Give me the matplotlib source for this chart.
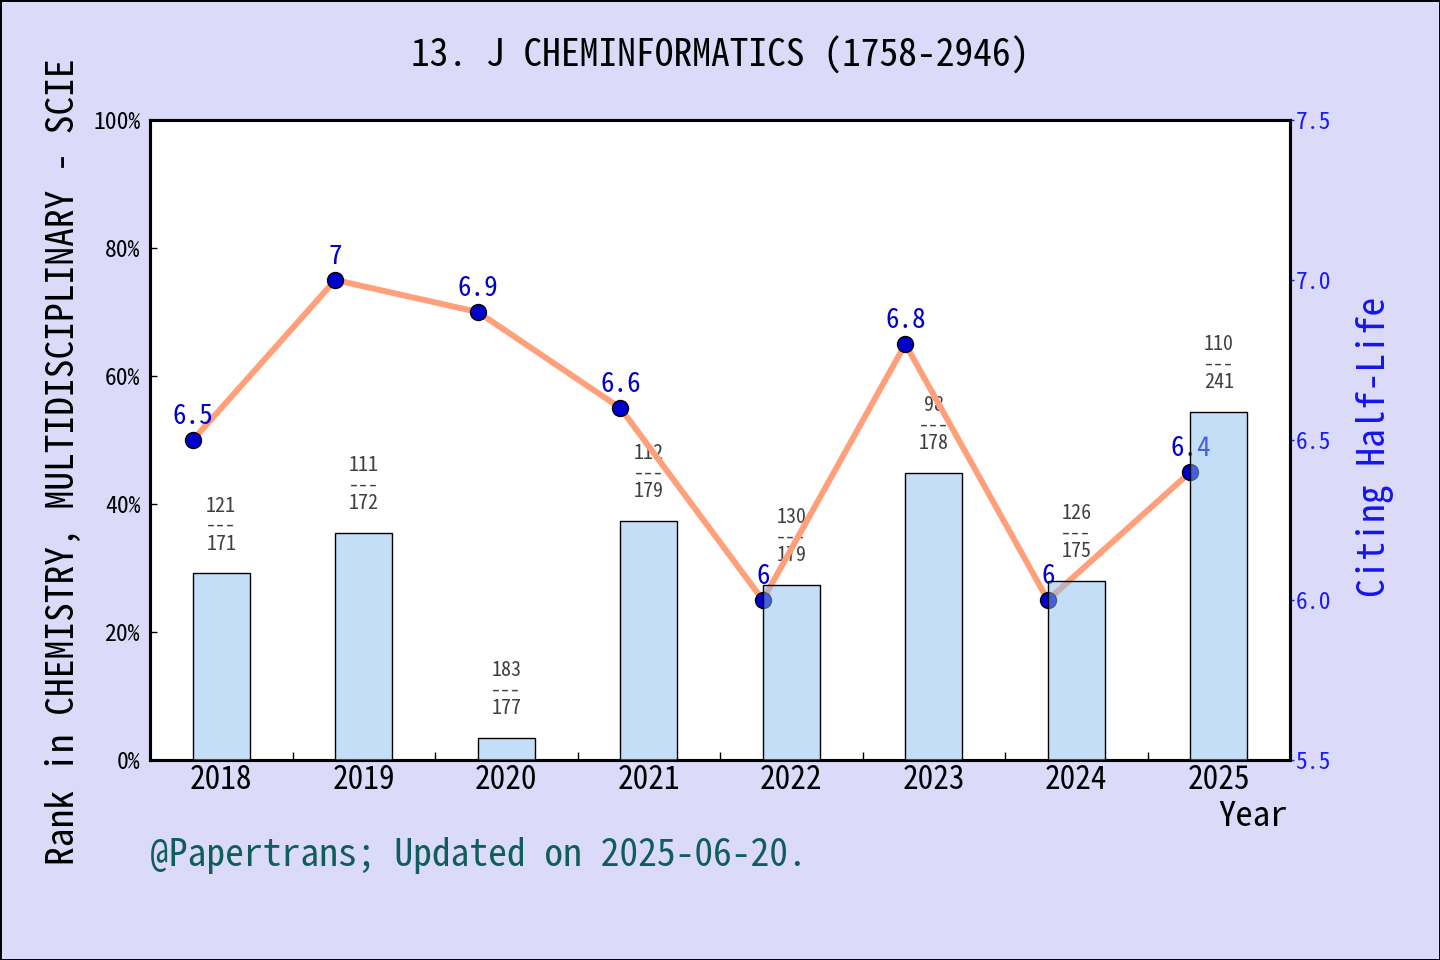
import matplotlib
matplotlib.use("Agg")
import matplotlib.pyplot as plt
from matplotlib import font_manager
from matplotlib.ticker import FixedLocator, PercentFormatter
import numpy as np

years = ["2018", "2019", "2020", "2021", "2022", "2023", "2024", "2025"]
rank_share = [0.292, 0.355, 0.035, 0.374, 0.274, 0.449, 0.280, 0.544]
ranks = [121, 111, 183, 112, 130, 98, 126, 110]
totals = [171, 172, 177, 179, 179, 178, 175, 241]
half_life = [6.5, 7.0, 6.9, 6.6, 6.0, 6.8, 6.0, 6.4]

BG = "#DCDAF9"


def pick_mono():
    # a half-width mono font looks closest to the original SimHei text
    for name in ["Noto Sans Mono CJK SC", "Noto Sans Mono CJK JP"]:
        try:
            font_manager.findfont(font_manager.FontProperties(family=name),
                                  fallback_to_default=False)
            return name, 1.0
        except ValueError:
            pass
    return "DejaVu Sans Mono", 0.84


font, s = pick_mono()
plt.rcParams["font.family"] = [font, "DejaVu Sans"]

fig = plt.figure(figsize=(14.4, 9.6), dpi=100, facecolor=BG,
                 edgecolor="black", linewidth=2)
ax = fig.add_axes([0.1042, 0.2083, 0.7917, 0.6667])
ax.set_facecolor("white")
x = np.arange(len(years))

# left axis: percent scale, bar labels
ax.set_xlim(-0.5, 7.5)
ax.set_ylim(0, 1)
ax.yaxis.set_major_locator(FixedLocator([0, 0.2, 0.4, 0.6, 0.8, 1.0]))
ax.yaxis.set_major_formatter(PercentFormatter(1.0, decimals=0))
ax.set_xticks(x)
ax.set_xticklabels(years)
ax.set_xticks(np.arange(0.5, 7, 1), minor=True)
ax.tick_params(axis="x", which="major", length=0, pad=3, labelsize=22.5 * s)
ax.tick_params(axis="x", which="minor", direction="in", length=6, width=1)
ax.tick_params(axis="y", direction="in", length=5, width=1,
               labelsize=17 * s, pad=7)
for sp in ax.spines.values():
    sp.set_linewidth(2.2)

for i in range(len(years)):
    ax.annotate(f"{ranks[i]}\n---\n{totals[i]}", (x[i], rank_share[i]),
                xytext=(0, 14), textcoords="offset points",
                ha="center", va="bottom", fontsize=14.4 * s,
                color="#404040", linespacing=1.0)

# right axis: citing half-life line
ax2 = ax.twinx()
ax2.set_ylim(5.5, 7.5)
ax2.yaxis.set_major_locator(FixedLocator([5.5, 6.0, 6.5, 7.0, 7.5]))
ax2.yaxis.set_major_formatter(plt.FormatStrFormatter("%.1f"))
ax2.tick_params(axis="y", colors="#1a1aff", direction="out", length=3,
                width=1, labelsize=17 * s, pad=1)
for sp in ax2.spines.values():
    sp.set_linewidth(2.2)
ax2.plot(x - 0.2, half_life, color="#FFA07A", lw=4.3, marker="o", ms=11.5,
         mfc="#0000CD", mec="black", mew=1)
for i, v in enumerate(half_life):
    ax2.annotate(f"{v:g}", (x[i] - 0.2, v), xytext=(0, 7),
                 textcoords="offset points", ha="center", va="bottom",
                 fontsize=19.5 * s, color="#0000CD")

# bars on top, half transparent
ax3 = ax.twinx()
ax3.set_ylim(0, 1)
ax3.axis("off")
ax3.bar(x, rank_share, width=0.4, color=(0.54, 0.75, 0.94, 0.5),
        edgecolor="black", linewidth=1)

fig.text(0.5, 1 - 55 / 960, "13. J CHEMINFORMATICS (1758-2946)",
         ha="center", va="center", fontsize=27 * s)
fig.text(63 / 1440, 1 - 462 / 960,
         "Rank in CHEMISTRY, MULTIDISCIPLINARY - SCIE",
         rotation=90, ha="center", va="center", fontsize=27 * s)
fig.text(1375 / 1440, 1 - 447 / 960, "Citing Half-Life", rotation=90,
         ha="center", va="center", fontsize=27 * s, color="#1414F0")
fig.text(1288 / 1440, 1 - 817 / 960, "Year", ha="right", va="center",
         fontsize=25 * s)
fig.text(150 / 1440, 1 - 855 / 960, "@Papertrans; Updated on 2025-06-20.",
         ha="left", va="center", fontsize=27 * s, color="#105E5A")

fig.savefig("out.png", dpi=100, facecolor=BG, edgecolor="black")
